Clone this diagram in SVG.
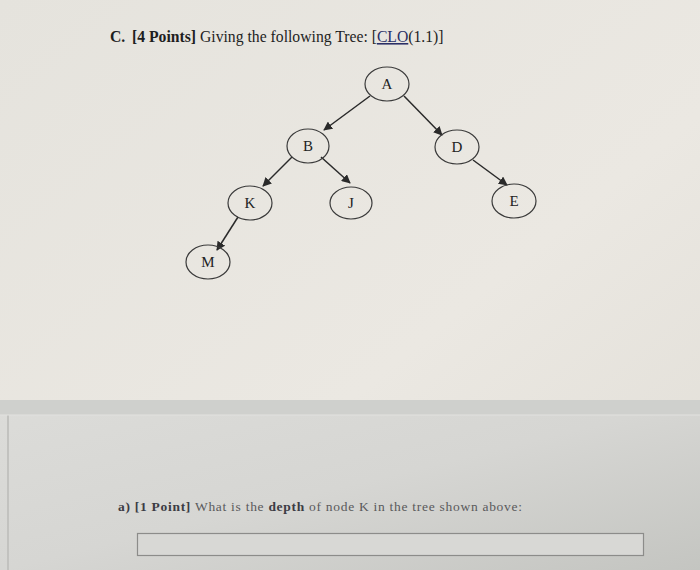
<svg xmlns="http://www.w3.org/2000/svg" width="700" height="570" viewBox="0 0 700 570">
<defs>
<linearGradient id="bgTop" x1="0" y1="0" x2="1" y2="1">
<stop offset="0" stop-color="#e5e3dd"/>
<stop offset="0.6" stop-color="#ebe8e2"/>
<stop offset="1" stop-color="#e1ded7"/>
</linearGradient>
<linearGradient id="bgBot" x1="0" y1="0" x2="1" y2="1">
<stop offset="0" stop-color="#dcdcd9"/>
<stop offset="0.5" stop-color="#d6d6d3"/>
<stop offset="1" stop-color="#c4c5c1"/>
</linearGradient>
<marker id="arr" viewBox="0 0 10 10" refX="9" refY="5" markerWidth="9" markerHeight="9" markerUnits="userSpaceOnUse" orient="auto">
<path d="M0,0 L10,5 L0,10 z" fill="#2a2a2a"/>
</marker>
</defs>
<style>
.node ellipse{fill:none;stroke:#3a3a3a;stroke-width:1.2}
.node text{font-family:"Liberation Serif",serif;font-size:15px;fill:#222;text-anchor:middle}
.edge{stroke:#2a2a2a;stroke-width:1.5;fill:none;marker-end:url(#arr)}
.title{font-family:"Liberation Serif",serif;font-size:15.7px;fill:#1e1e1e}
.q{font-family:"Liberation Serif",serif;font-size:13.5px;fill:#5a5a5c}
</style>
<rect x="0" y="0" width="700" height="570" fill="url(#bgTop)"/>
<rect x="0" y="400" width="700" height="170" fill="url(#bgBot)"/>
<rect x="0" y="400" width="700" height="15" fill="#cfd0cd"/>
<line x1="8" y1="415" x2="8" y2="570" stroke="#c2c2bf" stroke-width="2"/>
<line x1="0" y1="415" x2="700" y2="415" stroke="#e2e2df" stroke-width="1"/>

<text class="title" x="110" y="42"><tspan font-weight="bold">C.</tspan> <tspan font-weight="bold" x="132">[4 Points]</tspan> Giving the following Tree: [<tspan text-decoration="underline" fill="#2a2f66">CLO</tspan>(1.1)]</text>

<g id="connectors">
<line class="edge" x1="370" y1="96" x2="324" y2="130"/>
<line class="edge" x1="404" y1="96" x2="442" y2="135"/>
<line class="edge" x1="292" y1="157" x2="263" y2="186"/>
<line class="edge" x1="321" y1="157" x2="350" y2="183"/>
<line class="edge" x1="473" y1="160" x2="507" y2="185"/>
<line class="edge" x1="238" y1="217" x2="217" y2="250"/>
</g>

<g id="node-A" class="node"><ellipse cx="387" cy="84" rx="22" ry="17"/><text x="387" y="89">A</text></g>
<g id="node-B" class="node"><ellipse cx="308" cy="146" rx="21" ry="17"/><text x="308" y="151">B</text></g>
<g id="node-D" class="node"><ellipse cx="457" cy="147" rx="22" ry="17"/><text x="457" y="152">D</text></g>
<g id="node-K" class="node"><ellipse cx="250" cy="203" rx="22" ry="17"/><text x="250" y="208">K</text></g>
<g id="node-J" class="node"><ellipse cx="351" cy="203" rx="21" ry="16"/><text x="351" y="208">J</text></g>
<g id="node-E" class="node"><ellipse cx="514" cy="201" rx="22" ry="17"/><text x="514" y="206">E</text></g>
<g id="node-M" class="node"><ellipse cx="208" cy="262" rx="22" ry="17"/><text x="208" y="267">M</text></g>

<text class="q" x="118" y="511" textLength="404" lengthAdjust="spacing"><tspan font-weight="bold" fill="#3c3c44">a)</tspan>  <tspan font-weight="bold" fill="#3c3c44">[1 Point]</tspan> What is the <tspan font-weight="bold" fill="#3c3c44">depth</tspan> of node K in the tree shown above:</text>
<rect x="137.5" y="533.5" width="506" height="22" fill="#d8d8d5" stroke="#8c8c8a" stroke-width="1.2"/>
</svg>
